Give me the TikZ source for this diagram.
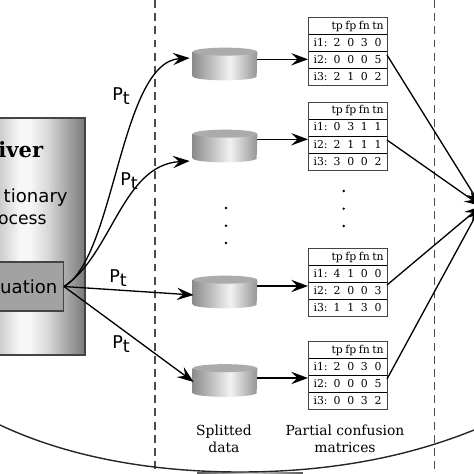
\documentclass[tikz,border=0pt]{standalone}
\usepackage{fontspec}
\usepackage{array}
\setmainfont{DejaVu Serif}
\newfontfamily\labelsans{DejaVu Sans}
\usepackage{tikz}
\usetikzlibrary{arrows.meta,positioning,calc}
\definecolor{BoxEdge}{HTML}{444444}
\definecolor{EvalFill}{HTML}{A2A2A2}
\definecolor{DbTop}{HTML}{ABABAB}
\pgfdeclarehorizontalshading{drivershade}{100bp}{color(0bp)=(black!40); color(25bp)=(black!40); color(41bp)=(black!20); color(49bp)=(black!3); color(53bp)=(black!3); color(60bp)=(black!15); color(70bp)=(black!40); color(75bp)=(black!53); color(100bp)=(black!53)}
\pgfdeclarehorizontalshading{dbshade}{100bp}{color(0bp)=(black!45); color(25bp)=(black!45); color(54bp)=(black!5); color(75bp)=(black!42); color(100bp)=(black!42)}
\pgfdeclarehorizontalshading{nextshade}{100bp}{color(0bp)=(black!65); color(25bp)=(black!65); color(50bp)=(black!15); color(75bp)=(black!65); color(100bp)=(black!65)}
\tikzset{
  flow/.style={line width=0.75pt,-{Stealth[length=9.5pt,width=7pt,inset=3.5pt]}},
  divider/.style={line width=0.7pt,draw=black!70,dash pattern=on 4.5pt off 3pt},
  dbnode/.style={rectangle,minimum width=1.28cm,minimum height=0.64cm,inner sep=0pt,
    append after command={
      \pgfextra{\shade[shading=dbshade] ($(\tikzlastnode.north west)+(0,4)$) -- ($(\tikzlastnode.south west)+(0,-4)$) arc (180:0:32 and 4) -- ($(\tikzlastnode.north east)+(0,4)$) -- cycle;
      \fill[DbTop] ($(\tikzlastnode.north)+(0,4)$) ellipse (32 and 4);}
    }},
  dotnode/.style={circle,fill=black,inner sep=0pt,minimum size=1.5pt},
  ptlabel/.style={font=\labelsans\fontsize{10}{12}\selectfont},
  captionlabel/.style={align=center,font=\fontsize{7.9}{9.9}\selectfont},
  solverlabel/.style={anchor=east,align=right,font=\labelsans\fontsize{10.3}{11.4}\selectfont},
  tablenode/.style={draw=BoxEdge,line width=0.7pt,inner sep=0pt,anchor=north west}
}
\newcommand{\Pt}{P\raisebox{-2pt}{t}}
\newcommand{\conftable}[3]{\fontsize{6.2}{9.35}\selectfont
  \begin{tabular}{@{\hspace{2.8pt}}w{l}{9.6pt}*{4}{@{}w{c}{7.75pt}@{}}@{\hspace{1.4pt}}}
  & tp & fp & fn & tn\\\hline
  i1: & #1\\\hline
  i2: & #2\\\hline
  i3: & #3
  \end{tabular}}
\begin{document}
\begin{tikzpicture}[x=0.02cm,y=-0.02cm]
\useasboundingbox (0,0) rectangle (474,474);
\clip (0,0) rectangle (474,474);
% dashed dividers
\coordinate (divAtop) at (155,0);
\coordinate (divAbot) at (155,474);
\coordinate (divBtop) at (434.5,0);
\coordinate (divBbot) at (434.5,474);
\draw[divider] (divAtop) -- (divAbot);
\draw[divider] (divBtop) -- (divBbot);
% solver box
\node[draw=BoxEdge,line width=0.7pt,shading=drivershade,minimum width=2.52cm,minimum height=4.74cm,inner sep=0pt] (driver) at (22,236.5) {};
\node[anchor=east,font=\bfseries\fontsize{12}{14}\selectfont,inner sep=0pt] (drivertxt) at (43.5,150) {iver};
\node[solverlabel,inner sep=0pt] (evotop) at (68,198) {tionary};
\node[solverlabel,inner sep=0pt,font=\labelsans\fontsize{9.8}{11.4}\selectfont] (evobot) at (47,220) {ocess};
\node[draw=BoxEdge,line width=0.7pt,fill=EvalFill,anchor=east,minimum height=0.98cm,text width=2.4cm,align=right,inner xsep=3.4pt,inner ysep=0pt,font=\labelsans\fontsize{10.3}{12}\selectfont] (eval) at (64,286.5) {uation};
% data parts
\node[dbnode] (db1) at (225,64) {};
\node[dbnode] (db2) at (225,146) {};
\node[dbnode] (db3) at (225,292) {};
\node[dbnode] (db4) at (225,380.5) {};
\node[dotnode] (dotA1) at (226,208) {};
\node[dotnode] (dotA2) at (226,225.7) {};
\node[dotnode] (dotA3) at (226,243) {};
% matrices
\node[tablenode] (tbl1) at (308,17) {\conftable{2 & 0 & 3 & 0}{0 & 0 & 0 & 5}{2 & 1 & 0 & 2}};
\node[tablenode] (tbl2) at (308,101.7) {\conftable{0 & 3 & 1 & 1}{2 & 1 & 1 & 1}{3 & 0 & 0 & 2}};
\node[tablenode] (tbl3) at (308,248) {\conftable{4 & 1 & 0 & 0}{2 & 0 & 0 & 3}{1 & 1 & 3 & 0}};
\node[tablenode] (tbl4) at (308,341) {\conftable{2 & 0 & 3 & 0}{0 & 0 & 0 & 5}{0 & 0 & 3 & 2}};
\node[dotnode] (dotB1) at (343.7,191) {};
\node[dotnode] (dotB2) at (343.7,208.7) {};
\node[dotnode] (dotB3) at (343.7,226) {};
% curves out of evaluation
\draw[flow] (eval.east) .. controls (115,258) and (120,62) .. ($(db1.west)+(-3,-6)$);
\draw[flow] (eval.east) .. controls (112,255) and (122,165) .. ($(db2.west)+(-3,15)$);
\draw[flow] (eval.east) -- ($(db3.west)+(1,3)$);
\draw[flow] (eval.east) -- ($(db4.west)+(1,1.5)$);
\node[ptlabel] (pt1) at (121,96) {\Pt};
\node[ptlabel] (pt2) at (129,181) {\Pt};
\node[ptlabel] (pt3) at (118,278) {\Pt};
\node[ptlabel] (pt4) at (121,344) {\Pt};
% into the matrices
\coordinate (in1) at (308,59.3);
\coordinate (in2) at (308,139.3);
\coordinate (in3) at (308,286);
\coordinate (in4) at (308,378);
\draw[flow] (db1.east |- in1) -- (in1);
\draw[flow] (db2.east |- in2) -- (in2);
\draw[flow] (db3.east |- in3) -- (in3);
\draw[flow] (db4.east |- in4) -- (in4);
% out to the merge point
\coordinate (sink) at (481,206);
\coordinate (out1) at (387,55);
\coordinate (out2) at (387,140);
\coordinate (out3) at (387,285);
\coordinate (out4) at (387,379);
\draw[flow] (out1) -- (sink);
\draw[flow] (out2) -- (sink);
\draw[flow] (out3) -- (sink);
\draw[flow] (out4) -- (sink);
% captions
\node[captionlabel] (capdata) at (224,439) {Splitted\\data};
\node[captionlabel] (capconf) at (345,439) {Partial confusion\\matrices};
% bottom arc
\node[shading=nextshade,minimum width=2.12cm,minimum height=0.2cm,inner sep=0pt,anchor=north] (nextbox) at (250,472.5) {};
\coordinate (arcL) at (0,425);
\coordinate (arcM) at (240,472);
\coordinate (arcR) at (474,430);
\draw[line width=0.8pt,black!85] (arcL) .. controls (70,458) and (155,472) .. (arcM) .. controls (320,472) and (400,460) .. (arcR);
\end{tikzpicture}
\end{document}
